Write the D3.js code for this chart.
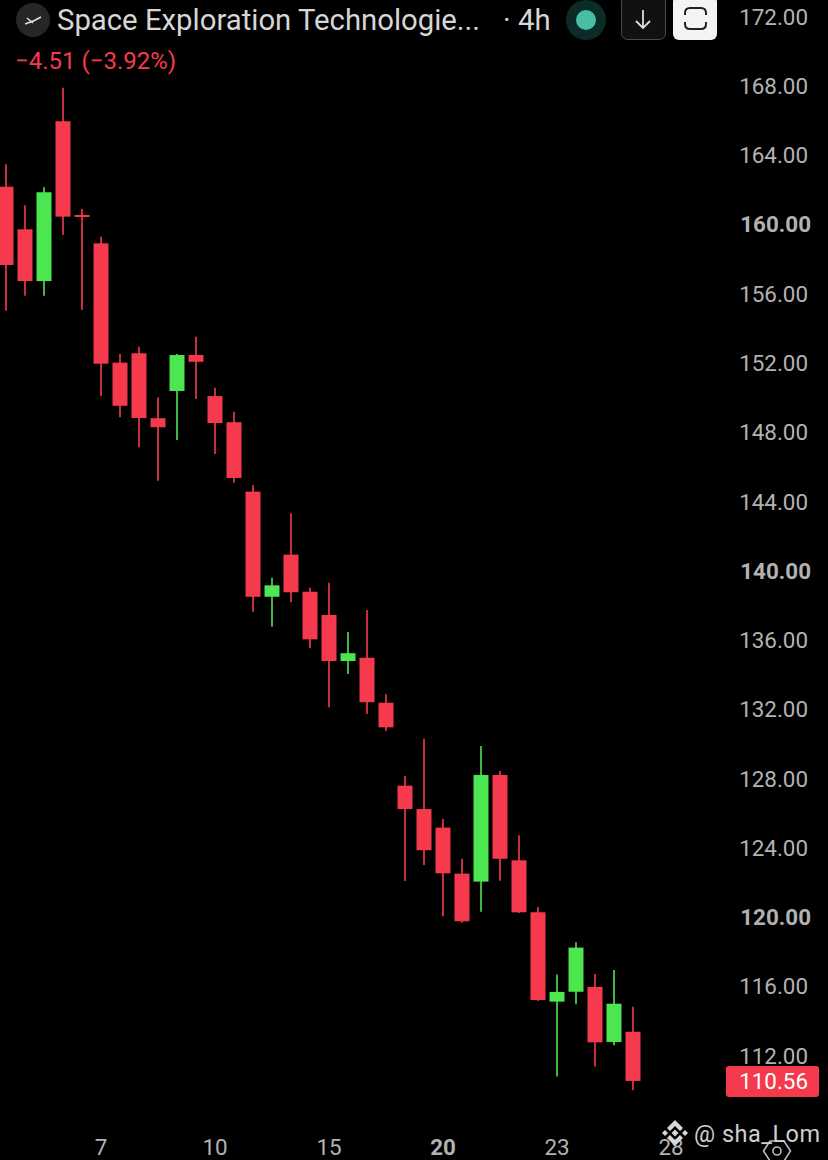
<!DOCTYPE html>
<html>
<head>
	<meta charset="UTF-8">
	<title>Space Exploration Technologies 4h</title>
	<script src="https://cdn.jsdelivr.net/npm/d3@7"></script>
	<style>
		body {
			padding: 0;
			margin: 0;
			background: #000;
		}
		svg { display: block; }
		text { font-family: Roboto, sans-serif; }
		.domain, .tick line { display: none; }
	</style>
</head>
<body>
	<script>
		var w = 828,
			h = 1160;

		// candles, left to right
		var opens = [162.20, 159.74, 156.75, 165.98, 160.57, 158.93, 152.04, 152.58, 148.83, 150.40, 152.48, 150.11,
			148.60, 144.59, 138.52, 140.95, 138.81, 137.47, 134.81, 135.00, 132.40, 127.61, 126.26, 125.19,
			122.53, 122.07, 128.23, 123.30, 120.30, 115.14, 115.71, 115.99, 112.81, 113.40];
		var closes = [157.68, 156.75, 161.88, 160.47, 160.45, 151.98, 149.55, 148.84, 148.31, 152.48, 152.09, 148.55,
			145.38, 138.52, 139.18, 138.78, 136.06, 134.81, 135.26, 132.43, 130.98, 126.26, 123.88, 122.55,
			119.78, 128.23, 123.39, 120.30, 115.23, 115.70, 118.26, 112.79, 115.02, 110.56];
		var highs = [163.49, 161.13, 162.17, 167.92, 160.93, 159.31, 152.54, 152.96, 150.02, 152.54, 153.54, 150.59,
			149.21, 144.97, 139.62, 143.34, 139.04, 139.33, 136.49, 137.76, 132.89, 128.17, 130.32, 125.69,
			123.39, 129.90, 128.46, 124.75, 120.59, 116.70, 118.57, 116.74, 116.97, 114.85];
		var lows = [155.04, 155.91, 155.91, 159.41, 155.08, 150.11, 148.88, 147.15, 145.22, 147.57, 149.94, 146.76,
			145.11, 137.66, 136.79, 138.20, 135.54, 132.14, 134.06, 131.75, 130.77, 122.11, 123.03, 120.07,
			119.70, 120.33, 122.12, 120.26, 115.18, 110.81, 114.99, 111.38, 112.62, 110.02];

		var priceTicks = [172, 168, 164, 160, 156, 152, 148, 144, 140, 136, 132, 128, 124, 120, 116, 112];
		var boldPrices = [160, 140, 120];
		var timeIndex = [5, 11, 17, 23, 29, 35];
		var timeLabels = ["7", "10", "15", "20", "23", "28"];
		var lastPrice = 110.56;

		var red = "#f63a4e",
			green = "#4ce650",
			label = "#b2b2b2";

		var x = d3.scaleLinear().domain([0, 35]).range([6, 671]);
		var y = d3.scaleLinear().domain([172, 112]).range([17, 1056]);

		var svg = d3.select("body").append("svg")
			.attr("width", w)
			.attr("height", h);

		svg.append("rect").attr("width", w).attr("height", h).attr("fill", "#000");

		var candles = svg.selectAll(".candle")
			.data(opens.map(function (o, i) { return i; }))
			.enter().append("g")
			.attr("class", "candle");

		function candleColor(i) {
			return closes[i] >= opens[i] ? green : red;
		}

		candles.append("line")
			.attr("x1", function (i) { return x(i); })
			.attr("x2", function (i) { return x(i); })
			.attr("y1", function (i) { return y(highs[i]); })
			.attr("y2", function (i) { return y(lows[i]); })
			.attr("stroke", candleColor)
			.attr("stroke-width", 1.6);

		candles.append("rect")
			.attr("x", function (i) { return x(i) - 7.5; })
			.attr("width", 15)
			.attr("y", function (i) { return y(Math.max(opens[i], closes[i])); })
			.attr("height", function (i) { return Math.max(2, Math.abs(y(opens[i]) - y(closes[i]))); })
			.attr("fill", candleColor);

		// price axis
		var yAxis = d3.axisRight(y)
			.tickValues(priceTicks)
			.tickSize(0)
			.tickFormat(d3.format(".2f"));

		var yg = svg.append("g").attr("transform", "translate(808,0)").call(yAxis);
		yg.selectAll("text")
			.attr("x", function (d) { return boldPrices.indexOf(d) >= 0 ? 3 : 0; })
			.attr("text-anchor", "end")
			.style("font-family", "Roboto, sans-serif")
			.style("font-size", "22.4px")
			.style("font-weight", function (d) { return boldPrices.indexOf(d) >= 0 ? 700 : 400; })
			.attr("fill", label);

		// time axis
		var xAxis = d3.axisBottom(x)
			.tickValues(timeIndex)
			.tickSize(0)
			.tickFormat(function (d, i) { return timeLabels[i]; });

		var xg = svg.append("g").attr("transform", "translate(-0.5,1154.5)").call(xAxis);
		xg.selectAll("text")
			.attr("y", 0)
			.attr("dy", 0)
			.style("font-family", "Roboto, sans-serif")
			.style("font-size", "22.4px")
			.style("font-weight", function (d) { return d == 23 ? 700 : 400; })
			.attr("fill", label);

		// last price badge
		svg.append("rect")
			.attr("x", 726).attr("y", y(lastPrice) - 15)
			.attr("width", 93).attr("height", 31).attr("rx", 3)
			.attr("fill", red);
		svg.append("text")
			.attr("x", 808).attr("y", y(lastPrice) + 8.5)
			.attr("text-anchor", "end")
			.attr("font-size", 22.4)
			.attr("fill", "#fff")
			.text(d3.format(".2f")(lastPrice));

		// header
		svg.append("circle").attr("cx", 33).attr("cy", 20).attr("r", 17).attr("fill", "#262626");
		svg.append("path")
			.attr("d", "M25 24 Q33 22 41 17 M27 18 L33 23")
			.attr("stroke", "#ddd").attr("stroke-width", 1.5).attr("fill", "none");
		svg.append("text")
			.attr("x", 57).attr("y", 30)
			.attr("font-size", 29.3)
			.attr("fill", "#d6d6d6")
			.text("Space Exploration Technologie...");
		svg.append("text")
			.attr("x", 503).attr("y", 30)
			.attr("font-size", 29.3)
			.attr("fill", "#d6d6d6")
			.text("· 4h");
		svg.append("circle").attr("cx", 586).attr("cy", 20).attr("r", 20).attr("fill", "#0a2b26");
		svg.append("circle").attr("cx", 586).attr("cy", 20).attr("r", 10).attr("fill", "#47bfa5");

		svg.append("rect")
			.attr("x", 621.5).attr("y", -4).attr("width", 44).attr("height", 43.5).attr("rx", 6)
			.attr("fill", "#111").attr("stroke", "#4a4a4a").attr("stroke-width", 1);
		svg.append("path")
			.attr("d", "M643 10 V28 M636 21 L643 28 L650 21")
			.attr("stroke", "#ddd").attr("stroke-width", 1.8).attr("fill", "none");

		svg.append("rect")
			.attr("x", 673).attr("y", -4).attr("width", 44).attr("height", 44).attr("rx", 6)
			.attr("fill", "#f4f4f4");
		svg.append("path")
			.attr("d", "M685 15 V13 Q685 8 690 8 H701 Q706 8 706 13 V15 M685 22 V24 Q685 29 690 29 H701 Q706 29 706 24 V22")
			.attr("stroke", "#222").attr("stroke-width", 2).attr("fill", "none");

		svg.append("text")
			.attr("x", 15).attr("y", 69)
			.attr("font-size", 24)
			.attr("fill", red)
			.text("−4.51 (−3.92%)");

		// settings gear, the watermark lies over it
		svg.append("path")
			.attr("d", "M770 1141 L784 1141 L790.5 1151 L784 1161 M770 1141 L763.5 1151 L770 1161")
			.attr("stroke", "#bbb").attr("stroke-width", 1.6).attr("fill", "none");
		svg.append("circle").attr("cx", 777).attr("cy", 1151).attr("r", 4)
			.attr("stroke", "#bbb").attr("stroke-width", 1.6).attr("fill", "none");

		// watermark
		var logo = svg.append("g").attr("transform", "translate(675,1133)").attr("fill", "#d8d8d8");
		logo.append("path").attr("d", "M0 -13 L8 -5 L5 -2 L0 -7 L-5 -2 L-8 -5 Z");
		logo.append("path").attr("d", "M0 13 L8 5 L5 2 L0 7 L-5 2 L-8 5 Z");
		logo.append("path").attr("d", "M-10 -3 L-7 0 L-10 3 L-13 0 Z");
		logo.append("path").attr("d", "M10 -3 L13 0 L10 3 L7 0 Z");
		logo.append("path").attr("d", "M0 -3.5 L3.5 0 L0 3.5 L-3.5 0 Z");
		svg.append("text")
			.attr("x", 694).attr("y", 1142)
			.attr("font-size", 23.5)
			.attr("letter-spacing", 0.5)
			.attr("fill", "#cfcfcf")
			.text("@ sha_Lom");
	</script>
</body>
</html>
